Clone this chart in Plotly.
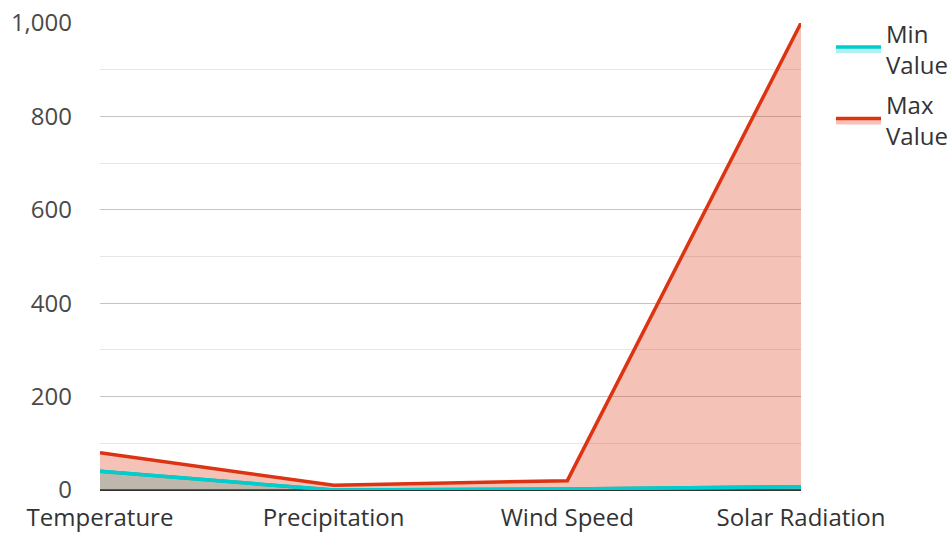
import plotly.graph_objects as go

categories = ["Temperature", "Precipitation", "Wind Speed", "Solar Radiation"]
min_values = [40, 0, 2, 7]
max_values = [80, 10, 20, 1000]
series_names = ["Min<br>Value", "Max<br>Value"]

min_color = "#00CDCD"
max_color = "#DC3412"

fig = go.Figure()
fig.add_trace(go.Scatter(
    x=categories, y=min_values, name=series_names[0], mode="lines",
    legendgroup="min",
    line=dict(color=min_color, width=3.5), fill="tozeroy",
    fillcolor="rgba(0,205,205,0.3)"))
fig.add_trace(go.Scatter(
    x=categories, y=max_values, name=series_names[1], mode="lines",
    legendgroup="max",
    line=dict(color=max_color, width=3.5), fill="tozeroy",
    fillcolor="rgba(220,52,18,0.3)"))
# redraw min line on top of the max area
fig.add_trace(go.Scatter(
    x=categories, y=min_values, mode="lines", showlegend=False, hoverinfo="skip",
    legendgroup="min",
    line=dict(color=min_color, width=3.5)))

font = "Open Sans, Noto Sans, sans-serif"
fig.update_layout(
    width=951, height=533,
    margin=dict(l=100, r=150, t=23, b=43, autoexpand=False),
    paper_bgcolor="white", plot_bgcolor="white",
    font=dict(family=font, size=24, color="#444"),
    showlegend=True,
    legend=dict(x=1.0428, y=1.025, xanchor="left", yanchor="top",
                font=dict(size=24, color="#333"), tracegroupgap=6,
                itemwidth=45),
    xaxis=dict(range=[0, 3], showgrid=False, zeroline=False, showline=False,
               automargin=False, ticks="", ticklabelstandoff=11,
               tickfont=dict(size=24, color="#333")),
    yaxis=dict(range=[0, 1000], dtick=200, tick0=0, tickformat=",d",
               automargin=False, ticklabeloverflow="allow",
               showgrid=True, gridcolor="#c4c4c4", gridwidth=1,
               zeroline=True, zerolinecolor="#333", zerolinewidth=2,
               ticks="", ticklabelstandoff=27,
               tickfont=dict(size=24, color="#4a4a4a"),
               minor=dict(dtick=100, tick0=0, showgrid=True, gridcolor="#e6e6e6", gridwidth=1)),
)
fig.write_html("out.html", config={"displayModeBar": False},
               post_script="document.body.style.margin='0';document.body.style.overflow='hidden';")
